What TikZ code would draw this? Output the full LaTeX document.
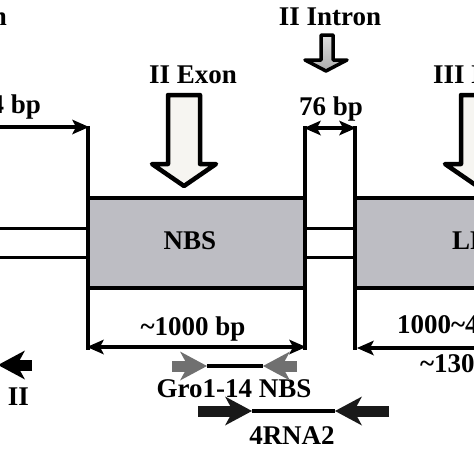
\documentclass[tikz,border=0pt]{standalone}
\usepackage{fontspec}
\setmainfont{Liberation Serif}
\definecolor{boxgray}{RGB}{189,189,195}
\definecolor{arrowfill}{RGB}{246,245,241}
\definecolor{primergray}{RGB}{112,112,112}
\definecolor{primerblack}{RGB}{25,25,25}
% arrow head: #1 tip coordinate, #2 direction (1 = points right, -1 = points left),
% #3 length, #4 width, #5 inset, #6 colour
\newcommand\myhead[6]{%
  \fill[#6,line join=round] (#1) -- ++({-(#2)*(#3)},{-(#4)/2}) -- ++({(#2)*(#5)},{(#4)/2})
     -- ++({-(#2)*(#5)},{(#4)/2}) -- cycle;}
\begin{document}
\begin{tikzpicture}[x=1pt,y=-1pt,
  lbl/.style={inner sep=0pt,anchor=base,font=\fontsize{27}{30}\selectfont\bfseries},
  bandline/.style={line width=3pt},
  boxline/.style={line width=3.5pt},
  guide/.style={line width=3.6pt},
  dim/.style={line width=4.2pt},
  blockarrow/.style={line width=4.5pt,line join=round,fill=arrowfill},
  smallarrow/.style={line width=3.5pt,line join=round,top color=gray!25,bottom color=gray!65},
  primer/.style={line width=11pt},
  amplicon/.style={line width=4.5pt}
]
\useasboundingbox (0,0) rectangle (474,474);
\clip (0,0) rectangle (474,474);

% boxes
\fill[boxgray] (90,198) rectangle (305,288);
\fill[boxgray] (357,198) rectangle (490,288);
\coordinate (nbsTL) at (88,198);  \coordinate (nbsTR) at (305,198);
\coordinate (nbsBL) at (88,288);  \coordinate (nbsBR) at (305,288);
\coordinate (lrrTL) at (355,198); \coordinate (lrrTR) at (490,198);
\coordinate (lrrBL) at (355,288); \coordinate (lrrBR) at (490,288);
\draw[boxline] (nbsTL) -- (nbsTR);
\draw[boxline] (nbsBL) -- (nbsBR);
\draw[boxline] (lrrTL) -- (lrrTR);
\draw[boxline] (lrrBL) -- (lrrBR);

% thin bands (non-coding)
\coordinate (lbT0) at (-5,228);  \coordinate (lbT1) at (88,228);
\coordinate (lbB0) at (-5,257);  \coordinate (lbB1) at (88,257);
\coordinate (ibT0) at (305,228); \coordinate (ibT1) at (355,228);
\coordinate (ibB0) at (305,257); \coordinate (ibB1) at (355,257);
\draw[bandline] (lbT0) -- (lbT1);
\draw[bandline] (lbB0) -- (lbB1);
\draw[bandline] (ibT0) -- (ibT1);
\draw[bandline] (ibB0) -- (ibB1);

% guide lines
\coordinate (g1t) at (88,126);  \coordinate (g1b) at (88,350);
\coordinate (g2t) at (305,126); \coordinate (g2b) at (305,350);
\coordinate (g3t) at (355,126); \coordinate (g3b) at (355,350);
\draw[guide] (g1t) -- (g1b);
\draw[guide] (g2t) -- (g2b);
\draw[guide] (g3t) -- (g3b);

% dimension arrows
\coordinate (d0) at (-5,127);   \coordinate (d1) at (89,127);
\coordinate (d2) at (304,128);  \coordinate (d3) at (356,128);
\coordinate (d4) at (87,347);   \coordinate (d5) at (306,347);
\coordinate (d6) at (490,348);  \coordinate (d7) at (357,348);
\draw[dim,shorten >=8pt] (d0) -- (d1);
\draw[dim,shorten >=8pt,shorten <=8pt] (d2) -- (d3);
\draw[dim,shorten >=8pt,shorten <=8pt] (d4) -- (d5);
\draw[dim,shorten >=8pt] (d6) -- (d7);
\myhead{d1}{1}{17}{15}{4}{black}
\myhead{d2}{-1}{17}{15}{4}{black}
\myhead{d3}{1}{17}{15}{4}{black}
\myhead{d4}{-1}{17}{15}{4}{black}
\myhead{d5}{1}{17}{15}{4}{black}
\myhead{d7}{-1}{17}{15}{4}{black}

% block arrows
\draw[blockarrow] (168,95) -- (200,95) -- (200,164) -- (216,164) -- (184,186) -- (152,164) -- (168,164) -- cycle;
\draw[blockarrow] (461,95) -- (493,95) -- (493,164) -- (509,164) -- (477,186) -- (445,164) -- (461,164) -- cycle;
\draw[smallarrow] (321,35) -- (333,35) -- (333,60) -- (347,60) -- (326,71) -- (305,60) -- (321,60) -- cycle;

% labels
\node[lbl,anchor=base east] (tI) at (7,25) {I Intron};
\node[lbl] (tIIi) at (330,25) {II Intron};
\node[lbl] (tIIe) at (193,83) {II Exon};
\node[lbl,anchor=base west] (tIIIe) at (433,83) {III Exon};
\node[lbl,anchor=base east] (t4bp) at (41,113) {4 bp};
\node[lbl] (t76) at (331,115) {76 bp};
\node[lbl] (tNBS) at (190,249) {NBS};
\node[lbl,anchor=base west] (tLRR) at (452,249) {LRR};
\node[lbl] (t1000) at (193,335) {\textasciitilde1000 bp};
\node[lbl,anchor=base west] (tR1) at (397,333) {1000\textasciitilde4000 bp};
\node[lbl,anchor=base west] (tR2) at (420,372) {\textasciitilde1300 bp};
\node[lbl] (tGro) at (234,397) {Gro1-14 NBS};
\node[lbl] (tRNA) at (292,444) {4RNA2};
\node[lbl,anchor=base east] (tII) at (29,405) {II};

% primers
\coordinate (pa1) at (172,366); \coordinate (pa2) at (207,366);
\coordinate (pa3) at (297,366); \coordinate (pa4) at (263,366);
\draw[amplicon] (pa2) -- (pa4);
\draw[primer,primergray,shorten >=18pt] (pa1) -- (pa2);
\draw[primer,primergray,shorten >=18pt] (pa3) -- (pa4);
\myhead{pa2}{1}{27}{29}{8}{primergray}
\myhead{pa4}{-1}{27}{29}{8}{primergray}
\coordinate (pb1) at (198,411); \coordinate (pb2) at (252,411);
\coordinate (pb3) at (389,411); \coordinate (pb4) at (335,411);
\draw[amplicon] (pb2) -- (pb4);
\draw[primer,primerblack,shorten >=18pt] (pb1) -- (pb2);
\draw[primer,primerblack,shorten >=18pt] (pb3) -- (pb4);
\myhead{pb2}{1}{27}{29}{8}{primerblack}
\myhead{pb4}{-1}{27}{29}{8}{primerblack}
\coordinate (pc1) at (32,365); \coordinate (pc2) at (-2,365);
\draw[primer,black,shorten >=18pt] (pc1) -- (pc2);
\myhead{pc2}{-1}{27}{29}{8}{black}
\end{tikzpicture}
\end{document}
